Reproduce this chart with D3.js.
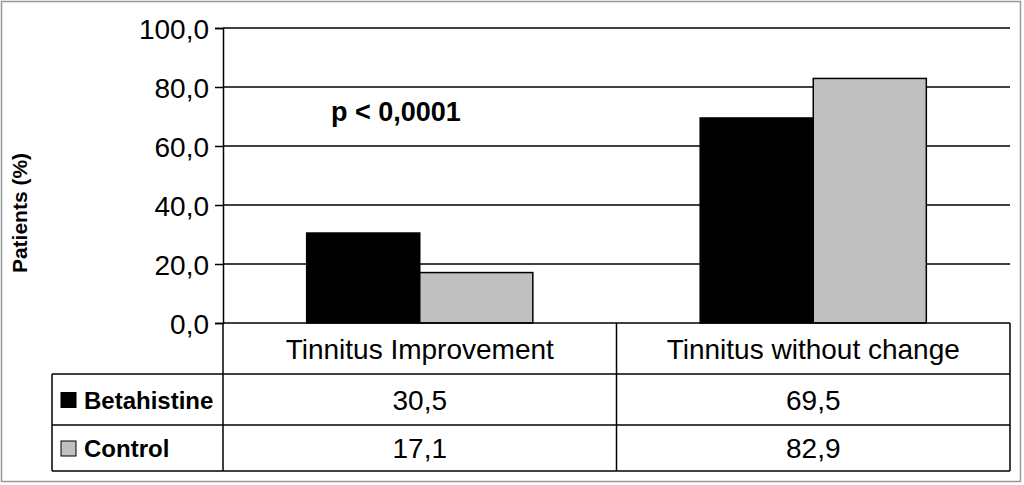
<!DOCTYPE html>
<html><head><meta charset="utf-8">
<script src="https://cdn.jsdelivr.net/npm/d3@7"></script>
<style>body{margin:0;background:#fff}</style></head>
<body><script>
const W = 1024, H = 485;
const categories = ["Tinnitus Improvement", "Tinnitus without change"];
const seriesNames = ["Betahistine", "Control"];
const betahistine = [30.5, 69.5];
const control = [17.1, 82.9];
const yTicks = [0, 20, 40, 60, 80, 100];
const colors = ["#000000", "#c0c0c0"];
const fmt = v => v.toFixed(1).replace(".", ",");

const L = 223, R = 1010, T = 28, B = 323;
const svg = d3.select("body").append("svg").attr("width", W).attr("height", H)
  .style("font-family", "Arial, 'Liberation Sans', sans-serif");

// outer frame
svg.append("rect").attr("x", 1.5).attr("y", 1.5).attr("width", W - 5).attr("height", H - 5)
  .attr("fill", "none").attr("stroke", "#999").attr("stroke-width", 1.5);

const x = d3.scaleBand().domain(categories).range([L, R]);
const xs = d3.scaleBand().domain(seriesNames).range([0, x.bandwidth()]).paddingOuter(0.74).paddingInner(0);
const y = d3.scaleLinear().domain([0, 100]).range([B, T]);

// gridlines
svg.append("g").selectAll("line").data(yTicks.filter(d => d > 0)).join("line")
  .attr("x1", L).attr("x2", R).attr("y1", d => y(d)).attr("y2", d => y(d))
  .attr("stroke", "#000").attr("stroke-width", 1.5);

// bars
const data = [betahistine, control];
categories.forEach((c, i) => {
  seriesNames.forEach((s, j) => {
    svg.append("rect")
      .attr("x", x(c) + xs(s)).attr("width", xs.bandwidth())
      .attr("y", y(data[j][i])).attr("height", B - y(data[j][i]))
      .attr("fill", colors[j]).attr("stroke", "#000").attr("stroke-width", 1.5);
  });
});

// y axis
const yAxis = svg.append("g").attr("transform", `translate(${L},0)`)
  .call(d3.axisLeft(y).tickValues(yTicks).tickFormat(fmt).tickSize(8).tickPadding(6));
yAxis.select(".domain").attr("stroke-width", 1.5);
yAxis.selectAll("line").attr("stroke-width", 1.5);
yAxis.selectAll("text").attr("font-size", 28).attr("fill", "#000").attr("dy", "0.36em");

svg.append("text").attr("transform", `translate(27,213) rotate(-90)`)
  .attr("text-anchor", "middle").attr("font-size", 21).attr("font-weight", "bold").text("Patients (%)");

svg.append("text").attr("x", 331).attr("y", 121).attr("font-size", 27).attr("font-weight", "bold")
  .text("p < 0,0001");

// table
const rowY = [B, 374, 425, 471];
const TL = 52;
const line = (x1, y1, x2, y2) => svg.append("line").attr("x1", x1).attr("y1", y1).attr("x2", x2).attr("y2", y2)
  .attr("stroke", "#000").attr("stroke-width", 1.5);
line(L, B, R, B);
line(TL, rowY[1], R, rowY[1]);
line(TL, rowY[2], R, rowY[2]);
line(TL, rowY[3], R, rowY[3]);
line(TL, rowY[1], TL, rowY[3]);
line(L, B, L, rowY[3]);
line(x(categories[1]), B, x(categories[1]), rowY[3]);
line(R, B, R, rowY[3]);

categories.forEach((c, i) => {
  const cx = x(c) + x.bandwidth() / 2;
  svg.append("text").attr("x", cx).attr("y", (rowY[0] + rowY[1]) / 2 + 10).attr("text-anchor", "middle")
    .attr("font-size", 28).text(c);
  data.forEach((d, j) => {
    svg.append("text").attr("x", cx).attr("y", (rowY[j + 1] + rowY[j + 2]) / 2 + 10).attr("text-anchor", "middle")
      .attr("font-size", 28).text(fmt(d[i]));
  });
});
seriesNames.forEach((s, j) => {
  const cy = (rowY[j + 1] + rowY[j + 2]) / 2;
  svg.append("rect").attr("x", 61).attr("y", cy - 7).attr("width", 15).attr("height", 15)
    .attr("fill", colors[j]).attr("stroke", "#000").attr("stroke-width", 1);
  svg.append("text").attr("x", 84).attr("y", cy + 9).attr("font-size", 24).attr("font-weight", "bold").text(s);
});
</script></body></html>
